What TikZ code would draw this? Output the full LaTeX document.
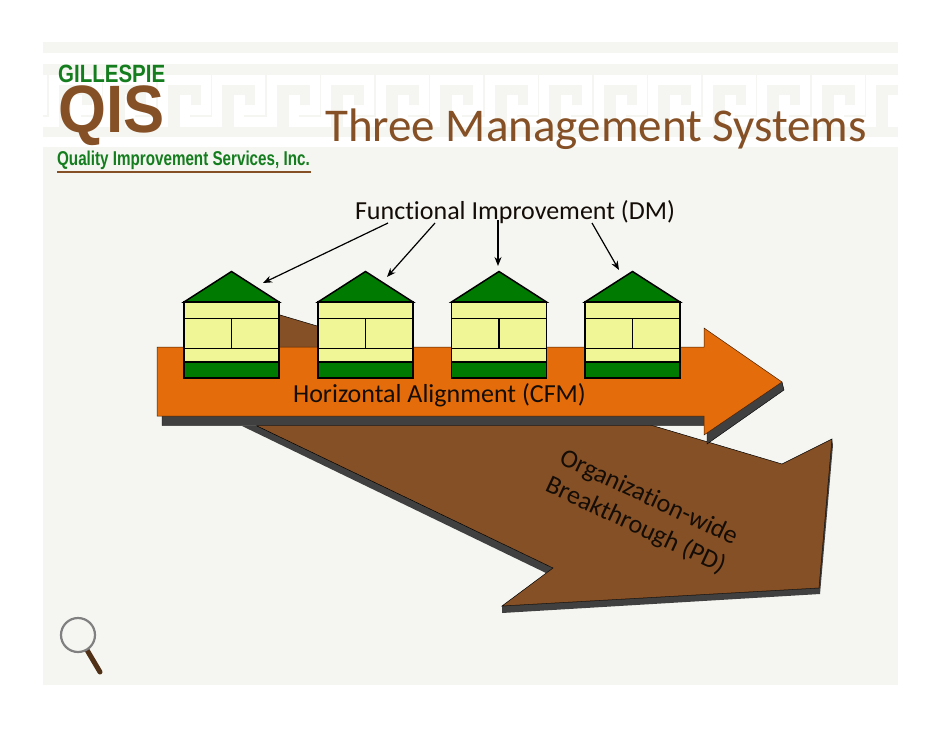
\documentclass[tikz,border=0pt]{standalone}
\usepackage{fontspec}
\usetikzlibrary{arrows.meta}
\setmainfont[Ligatures=NoCommon]{Carlito}
\newfontfamily\logofont{Liberation Sans}
\definecolor{mypage}{RGB}{245,246,241}
\definecolor{mybrown}{RGB}{133,80,37}
\definecolor{myorange}{RGB}{228,108,10}
\definecolor{myshadow}{RGB}{64,64,64}
\definecolor{mygreen}{RGB}{0,122,0}
\definecolor{myyellow}{RGB}{240,245,150}
\definecolor{mylogo}{RGB}{20,125,30}
\tikzset{
    bigarrow/.style={draw=black, line width=0.5pt, line join=miter},
    wall/.style={draw=black, line width=1.5pt},
    callout/.style={-{Stealth[length=9pt,width=7pt]}, line width=1.2pt},
    label/.style={inner sep=0pt, text=black!85!mybrown, font=\fontsize{26}{31}\selectfont},
    logotext/.style={inner sep=0pt, anchor=west, transform shape, font=\logofont\bfseries\fontsize{#1}{#1}\selectfont},
}
\newcommand{\house}[1]{%
    \begin{scope}[shift={(#1,0)}]
        \fill[myyellow] (0,302) rectangle (95,378);
        \filldraw[mygreen, draw=black, line width=1.5pt, line join=miter] (0,302) -- (47.5,271.5) -- (95,302) -- cycle;
        \filldraw[mygreen, draw=black, line width=1.5pt] (0,362) rectangle (95,378);
        \draw[wall] (0,302) rectangle (95,378);
        \draw[black, line width=0.8pt] (0,318) -- (95,318);
        \draw[black, line width=1pt] (0,348.5) -- (95,348.5);
        \draw[black, line width=1.2pt] (47.5,318) -- (47.5,348.5);
    \end{scope}
}
\begin{document}
\begin{tikzpicture}[x=1pt, y=-1pt]
    \useasboundingbox (0,0) rectangle (942,728);
    \fill[white] (0,0) rectangle (942,728);
    \fill[mypage] (43,42) rectangle (898,685);

    % key band
    \fill[white] (43,53) rectangle (898,64);
    \fill[white] (43,137) rectangle (898,147);
    \begin{scope}
        \clip (43,42) rectangle (898,147);
        \foreach \k in {0,...,17} {
            \begin{scope}[shift={(-6+54.5*\k,0)}]
                \fill[white] (0,75) rectangle (53,85);
                \fill[white] (0,75) rectangle (10,127);
                \fill[white] (43,75) rectangle (53,115);
                \fill[white] (32,105) rectangle (53,115);
                \fill[white] (22,117) rectangle (54.5,127);
                \fill[white] (22,95) rectangle (32,127);
                \fill[white] (22,95) rectangle (33,105);
            \end{scope}
        }
    \end{scope}

    % logo
    \node[logotext=25, xscale=.82, text=mylogo] (gillespie) at (58,74) {GILLESPIE};
    \node[logotext=67, xscale=.92, text=mybrown] (qis) at (58,116) {QIS};
    \node[logotext=20, xscale=.76, text=mylogo] (qual) at (57,160) {Quality Improvement Services, Inc.};
    \draw[mybrown, line width=1.6pt] (57,172) -- (311,172);

    % title
    \node[inner sep=0pt, anchor=base west, text=mybrown, font=\fontsize{47}{50}\selectfont] (title) at (325,141) {Three Management Systems};

    % brown arrow
    \fill[myshadow] (242,426) -- (260,426) -- (553,568) -- (546,573) -- cycle;
    \fill[myshadow] (502,613) -- (820,594) -- (833,445) -- (832,439) -- (819,588) -- (502,606) -- cycle;
    \draw[bigarrow, fill=mybrown] (243,304) -- (782,464) -- (832,439) -- (819,588) -- (502,606) -- (553,568) -- (257,426) -- cycle;

    % orange arrow
    \fill[myshadow, draw=black, line width=0.4pt] (162,400) -- (162,425.5) -- (707,425.5) -- (707,444) -- (784,390) -- (782,382) -- (704,400) -- cycle;
    \draw[bigarrow, fill=myorange, draw=black!70!myorange] (157,347) -- (704,347) -- (704,328) -- (782,382) -- (704,435) -- (704,416) -- (157,416) -- cycle;

    % houses
    \house{184}
    \house{318}
    \house{451.5}
    \house{585}

    % labels
    \node[label] (fi) at (515,212.5) {Functional Improvement (DM)};
    \node[label] (ha) at (439.5,395.5) {Horizontal Alignment (CFM)};
    \node[label, rotate=-25, align=center] (ob) at (642,512) {Organization-wide\\Breakthrough (PD)};

    % callouts
    \coordinate (taila) at (388,223);
    \coordinate (tailb) at (435,223);
    \coordinate (tailc) at (498,220);
    \coordinate (taild) at (592,223);
    \coordinate (roofa) at (263,283);
    \coordinate (roofb) at (387,277);
    \coordinate (roofc) at (498,266);
    \coordinate (roofd) at (619,270);
    \foreach \n in {a,b,c,d}
        \draw[callout] (tail\n) -- (roof\n);

    % lens
    \draw[mybrown!60!black, line width=5pt, line cap=round] (87,650) -- (100,672);
    \draw[black!50, line width=2.2pt, fill=mypage] (78,635) circle (17);
\end{tikzpicture}
\end{document}
